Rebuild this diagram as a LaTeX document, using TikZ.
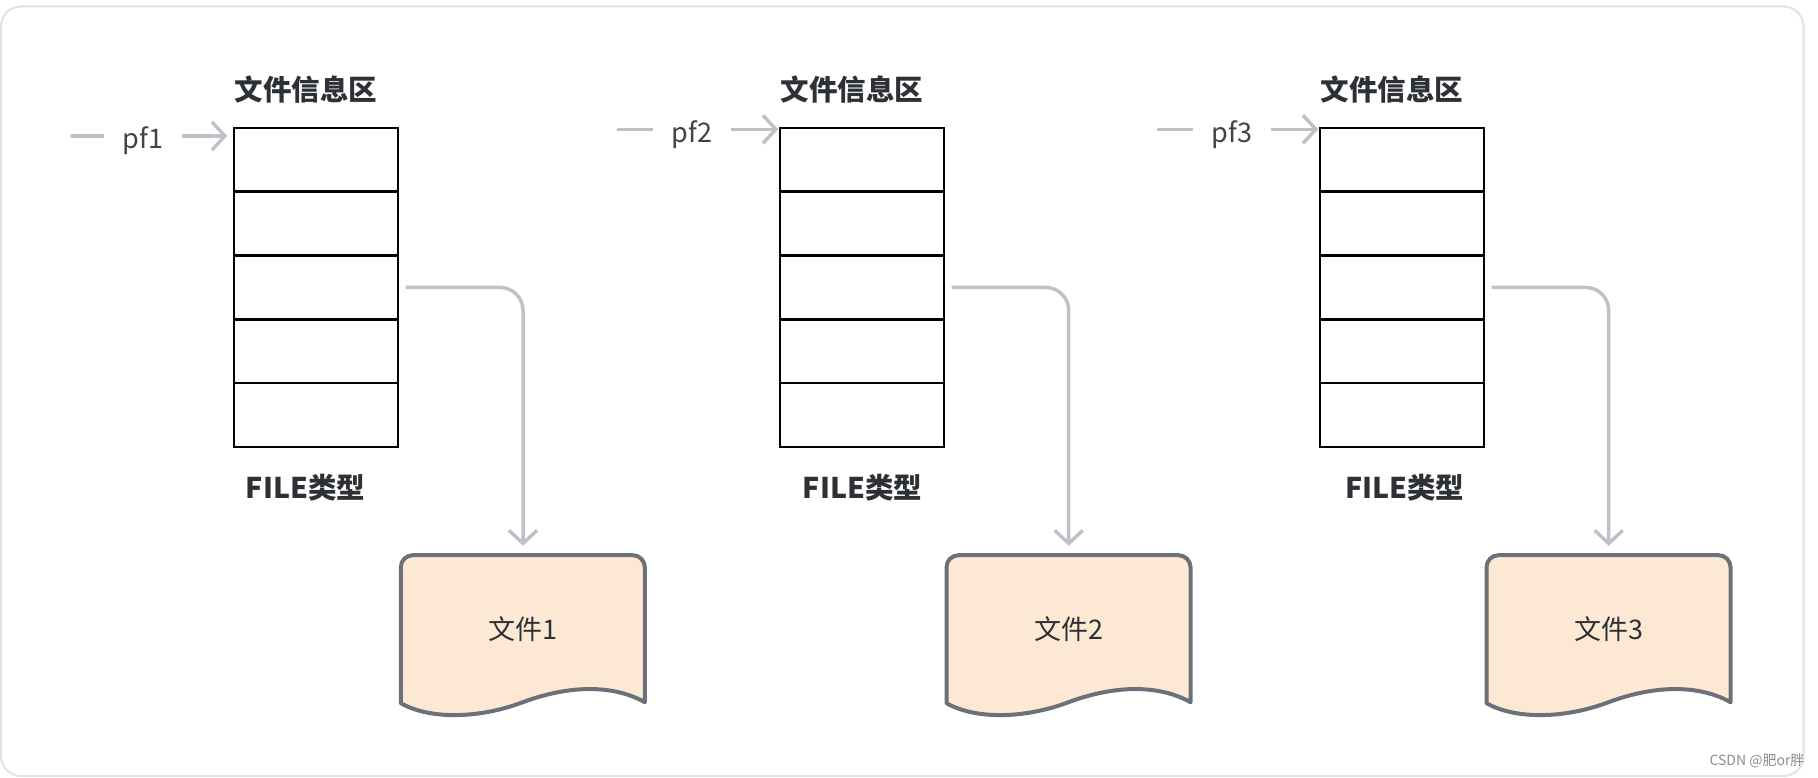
\documentclass[tikz,border=0pt]{standalone}
\usepackage{fontspec}
\setmainfont{Noto Sans CJK SC}
\usetikzlibrary{arrows.meta,positioning,backgrounds}

\definecolor{linkgray}{RGB}{191,193,198}
\definecolor{docedge}{RGB}{107,112,121}
\definecolor{docfill}{RGB}{253,233,211}
\definecolor{headtext}{RGB}{45,48,53}
\definecolor{ptrtext}{RGB}{64,67,72}
\definecolor{framegray}{RGB}{225,225,230}
\definecolor{marktext}{RGB}{140,140,140}

\tikzset{
  cell/.style={draw=black, line width=2.2, minimum width=163.4, minimum height=63.9, inner sep=0, outer sep=0},
  head/.style={inner sep=0, text=headtext, font=\fontsize{28.5}{34}\selectfont\bfseries},
  ptr/.style={draw=linkgray, line width=3.5, line cap=round, -{Straight Barb[length=13,width=28]}},
  ptrlabel/.style={fill=white, inner xsep=19, inner ysep=3, text=ptrtext, font=\fontsize{27}{32}\selectfont},
  link/.style={draw=linkgray, line width=3.5, rounded corners=23, shorten >=9, -{Straight Barb[length=13,width=28]}},
  docnode/.style={minimum width=244, minimum height=148, inner sep=0, text=headtext, font=\fontsize{27}{32}\selectfont},
  docbox/.style={draw=docedge, fill=docfill, line width=4, line join=round},
}

\begin{document}
\begin{tikzpicture}[x=1pt,y=1pt,yscale=-1]
\useasboundingbox (0,0) rectangle (1818,778);

%Frame
\draw [framegray, line width=2, rounded corners=20] (1,6.5) rectangle (1803.5,776);

%Grid 1
\node [cell] (a1) at (316,159.65) {};
\node [cell, below=0pt of a1] (a2) {};
\node [cell, below=0pt of a2] (a3) {};
\node [cell, below=0pt of a3] (a4) {};
\node [cell, below=0pt of a4] (a5) {};
\node [head, anchor=base west] (t1) at (234.3,101) {文件信息区};
\node [head, anchor=base] (k1) at (305.5,498) {FILE类型};
%Grid 2
\node [cell] (b1) at (862,159.65) {};
\node [cell, below=0pt of b1] (b2) {};
\node [cell, below=0pt of b2] (b3) {};
\node [cell, below=0pt of b3] (b4) {};
\node [cell, below=0pt of b4] (b5) {};
\node [head, anchor=base west] (t2) at (780.3,101) {文件信息区};
\node [head, anchor=base] (k2) at (862.5,498) {FILE类型};
%Grid 3
\node [cell] (c1) at (1402,159.65) {};
\node [cell, below=0pt of c1] (c2) {};
\node [cell, below=0pt of c2] (c3) {};
\node [cell, below=0pt of c3] (c4) {};
\node [cell, below=0pt of c4] (c5) {};
\node [head, anchor=base west] (t3) at (1320.3,101) {文件信息区};
\node [head, anchor=base] (k3) at (1404.7,498) {FILE类型};

%Pointers
\coordinate (p1) at (72,136);
\coordinate (p2) at (618,129.3);
\coordinate (p3) at (1158,129.3);
\draw [ptr, shorten >=7] (p1) -- (p1 -| a1.west);
\draw [ptr, shorten >=2] (p2) -- (p2 -| b1.west);
\draw [ptr, shorten >=2] (p3) -- (p3 -| c1.west);
\node [ptrlabel, anchor=base] (l1) at (143,149) {pf1};
\node [ptrlabel, anchor=base] (l2) at (692,142.3) {pf2};
\node [ptrlabel, anchor=base] (l3) at (1232,142.3) {pf3};

%Files
\node [docnode] (f1) at (523,629) {文件1};
\node [docnode] (f2) at (1068.7,629) {文件2};
\node [docnode] (f3) at (1608.7,629) {文件3};
\begin{scope}[on background layer]
\draw [docbox] (f1.south west) -- ++(0,-136) arc[start angle=180, end angle=270, radius=12] -- ++(220,0) arc[start angle=270, end angle=360, radius=12] -- ++(0,135) .. controls +(-34,-19) and +(43,-16) .. ++(-122,0) .. controls +(-42,16) and +(30,17) .. ++(-122,1) -- cycle;
\draw [docbox] (f2.south west) -- ++(0,-136) arc[start angle=180, end angle=270, radius=12] -- ++(220,0) arc[start angle=270, end angle=360, radius=12] -- ++(0,135) .. controls +(-34,-19) and +(43,-16) .. ++(-122,0) .. controls +(-42,16) and +(30,17) .. ++(-122,1) -- cycle;
\draw [docbox] (f3.south west) -- ++(0,-136) arc[start angle=180, end angle=270, radius=12] -- ++(220,0) arc[start angle=270, end angle=360, radius=12] -- ++(0,135) .. controls +(-34,-19) and +(43,-16) .. ++(-122,0) .. controls +(-42,16) and +(30,17) .. ++(-122,1) -- cycle;
\end{scope}

%Links
\draw [link] ([xshift=8]a3.east) -| (f1.north);
\draw [link] ([xshift=8]b3.east) -| (f2.north);
\draw [link] ([xshift=8]c3.east) -| (f3.north);

\node [text=marktext, font=\fontsize{14}{16}\selectfont] (wm) at (1757,761) {CSDN @肥or胖};

\end{tikzpicture}
\end{document}
